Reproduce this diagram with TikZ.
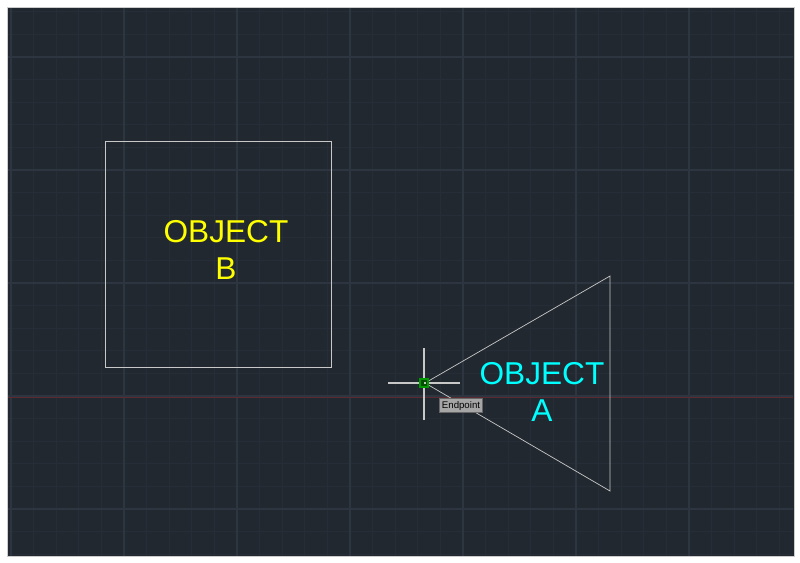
\documentclass[tikz,border=0pt]{standalone}
\usepackage{fontspec}
\setmainfont{Liberation Sans}
\definecolor{cadbg}{HTML}{212830}
\definecolor{minorgrid}{HTML}{262D37}
\definecolor{majorgrid}{HTML}{2D3541}
\definecolor{cadline}{HTML}{C8C8C8}
\definecolor{cadcyan}{HTML}{00FFFF}
\definecolor{cadyellow}{HTML}{FFFF00}
\definecolor{xaxis}{HTML}{5A2A30}
\tikzset{
  objlabel/.style={font=\fontsize{18}{21}\selectfont, align=center},
  tip/.style={draw=black!60, fill=black!35, text=black, font=\fontsize{5.5}{6}\selectfont, inner sep=1.5pt}
}
\begin{document}
\begin{tikzpicture}[x=0.02cm, y=-0.02cm]
    % Frame and background
    \useasboundingbox (0,0) rectangle (800,562);
    \fill[white] (0,0) rectangle (800,562);
    \fill[cadbg] (7,7) rectangle (794,556);
    \draw[black!20] (7,7) rectangle (794,556);
    % Grid
    \begin{scope}
        \clip (8,8) rectangle (793,555);
        \foreach \i in {-5,...,30} {
            \draw[minorgrid, line width=0.4pt] ({124+22.6*\i},7) -- ({124+22.6*\i},556);
            \draw[minorgrid, line width=0.4pt] (7,{57+22.6*\i}) -- (794,{57+22.6*\i});
        }
        \foreach \i in {-1,...,6} {
            \draw[majorgrid, line width=0.6pt] ({124+113*\i},7) -- ({124+113*\i},556);
            \draw[majorgrid, line width=0.6pt] (7,{57+113*\i}) -- (794,{57+113*\i});
        }
        \draw[xaxis, line width=0.5pt] (7,397) -- (794,397);
    \end{scope}
    % Object B
    \draw[cadline] (105,141) rectangle (331,367);
    \node[objlabel, text=cadyellow] (objb) at (226,250) {OBJECT\\B};
    % Object A
    \coordinate (pa) at (425,383);
    \coordinate (pb) at (610,276);
    \coordinate (pc) at (610,491);
    \draw[cadline] (pa) -- (pb) -- (pc) -- cycle;
    \node[objlabel, text=cadcyan] (obja) at (542,392) {OBJECT\\A};
    % Cursor and snap marker
    \draw[cadline, line width=0.8pt] (424,348) -- (424,420);
    \draw[cadline, line width=0.8pt] (388,383) -- (460,383);
    \draw[green!60!black, line width=0.6pt, fill=green!30!black] (420,379) rectangle (428,387);
    \fill[white] (pa) circle (1.2);
    \node[tip] (snap) at (461,405.5) {Endpoint};
\end{tikzpicture}
\end{document}
